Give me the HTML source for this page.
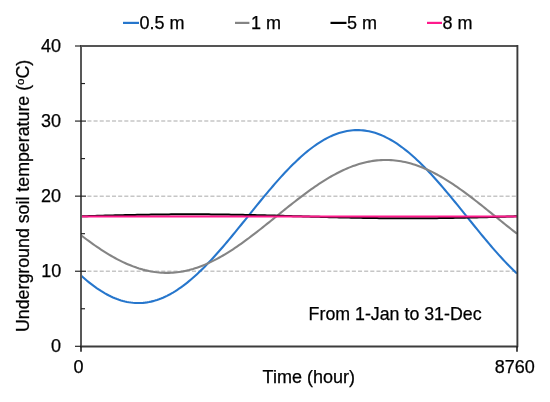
<!DOCTYPE html>
<html><head><meta charset="utf-8"><title>Underground soil temperature</title>
<style>html,body{margin:0;padding:0;background:#fff;width:550px;height:402px;overflow:hidden}svg{display:block}</style>
</head><body>
<svg width="550" height="402" viewBox="0 0 550 402">
<rect width="550" height="402" fill="#fff"/>
<line x1="87.4" y1="271.23" x2="516" y2="271.23" stroke="#c6c6c6" stroke-width="1.5" stroke-dasharray="4.05 2.1"/>
<line x1="87.4" y1="196.15" x2="516" y2="196.15" stroke="#c6c6c6" stroke-width="1.5" stroke-dasharray="4.05 2.1"/>
<line x1="87.4" y1="121.07" x2="516" y2="121.07" stroke="#c6c6c6" stroke-width="1.5" stroke-dasharray="4.05 2.1"/>
<polyline points="81.00,275.45 83.00,277.24 85.00,278.98 87.00,280.68 89.00,282.32 91.00,283.90 93.00,285.43 95.00,286.90 97.00,288.32 99.00,289.67 101.00,290.97 103.00,292.20 105.00,293.38 107.00,294.48 109.00,295.53 111.00,296.51 113.00,297.42 115.00,298.27 117.00,299.05 119.00,299.76 121.00,300.41 123.00,300.98 125.00,301.49 127.00,301.92 129.00,302.29 131.00,302.58 133.00,302.81 135.00,302.96 137.00,303.04 139.00,303.05 141.00,302.99 143.00,302.86 145.00,302.66 147.00,302.38 149.00,302.04 151.00,301.63 153.00,301.14 155.00,300.59 157.00,299.96 159.00,299.27 161.00,298.51 163.00,297.68 165.00,296.79 167.00,295.83 169.00,294.80 171.00,293.71 173.00,292.56 175.00,291.35 177.00,290.07 179.00,288.73 181.00,287.33 183.00,285.88 185.00,284.36 187.00,282.80 189.00,281.17 191.00,279.50 193.00,277.77 195.00,275.99 197.00,274.16 199.00,272.29 201.00,270.37 203.00,268.40 205.00,266.40 207.00,264.35 209.00,262.26 211.00,260.14 213.00,257.97 215.00,255.78 217.00,253.55 219.00,251.29 221.00,249.01 223.00,246.69 225.00,244.36 227.00,241.99 229.00,239.61 231.00,237.21 233.00,234.79 235.00,232.36 237.00,229.92 239.00,227.46 241.00,224.99 243.00,222.52 245.00,220.04 247.00,217.56 249.00,215.08 251.00,212.60 253.00,210.12 255.00,207.65 257.00,205.19 259.00,202.73 261.00,200.29 263.00,197.86 265.00,195.45 267.00,193.05 269.00,190.67 271.00,188.32 273.00,185.98 275.00,183.67 277.00,181.39 279.00,179.14 281.00,176.92 283.00,174.73 285.00,172.58 287.00,170.46 289.00,168.38 291.00,166.34 293.00,164.34 295.00,162.38 297.00,160.47 299.00,158.61 301.00,156.79 303.00,155.02 305.00,153.30 307.00,151.64 309.00,150.03 311.00,148.47 313.00,146.97 315.00,145.52 317.00,144.14 319.00,142.81 321.00,141.55 323.00,140.34 325.00,139.20 327.00,138.13 329.00,137.11 331.00,136.17 333.00,135.29 335.00,134.47 337.00,133.73 339.00,133.05 341.00,132.44 343.00,131.90 345.00,131.43 347.00,131.03 349.00,130.70 351.00,130.44 353.00,130.25 355.00,130.13 357.00,130.08 359.00,130.11 361.00,130.21 363.00,130.37 365.00,130.61 367.00,130.92 369.00,131.30 371.00,131.75 373.00,132.27 375.00,132.86 377.00,133.51 379.00,134.24 381.00,135.03 383.00,135.90 385.00,136.82 387.00,137.82 389.00,138.87 391.00,139.99 393.00,141.18 395.00,142.43 397.00,143.73 399.00,145.10 401.00,146.53 403.00,148.01 405.00,149.55 407.00,151.15 409.00,152.80 411.00,154.50 413.00,156.25 415.00,158.06 417.00,159.91 419.00,161.81 421.00,163.75 423.00,165.73 425.00,167.76 427.00,169.83 429.00,171.94 431.00,174.08 433.00,176.26 435.00,178.47 437.00,180.71 439.00,182.99 441.00,185.29 443.00,187.61 445.00,189.96 447.00,192.33 449.00,194.73 451.00,197.14 453.00,199.56 455.00,202.00 457.00,204.45 459.00,206.91 461.00,209.38 463.00,211.86 465.00,214.34 467.00,216.82 469.00,219.30 471.00,221.78 473.00,224.25 475.00,226.72 477.00,229.18 479.00,231.63 481.00,234.07 483.00,236.49 485.00,238.89 487.00,241.28 489.00,243.65 491.00,245.99 493.00,248.32 495.00,250.61 497.00,252.88 499.00,255.11 501.00,257.32 503.00,259.49 505.00,261.63 507.00,263.73 509.00,265.79 511.00,267.81 513.00,269.78 515.00,271.72 517.00,273.61" fill="none" stroke="#2676cc" stroke-width="2.1" stroke-linejoin="round"/>
<polyline points="81.00,235.25 83.00,236.77 85.00,238.27 87.00,239.75 89.00,241.22 91.00,242.66 93.00,244.09 95.00,245.49 97.00,246.86 99.00,248.21 101.00,249.54 103.00,250.84 105.00,252.11 107.00,253.35 109.00,254.56 111.00,255.74 113.00,256.88 115.00,257.99 117.00,259.07 119.00,260.12 121.00,261.12 123.00,262.09 125.00,263.03 127.00,263.92 129.00,264.78 131.00,265.59 133.00,266.37 135.00,267.10 137.00,267.80 139.00,268.45 141.00,269.05 143.00,269.62 145.00,270.14 147.00,270.61 149.00,271.05 151.00,271.43 153.00,271.77 155.00,272.07 157.00,272.32 159.00,272.52 161.00,272.68 163.00,272.79 165.00,272.86 167.00,272.88 169.00,272.85 171.00,272.77 173.00,272.65 175.00,272.49 177.00,272.27 179.00,272.01 181.00,271.71 183.00,271.36 185.00,270.96 187.00,270.52 189.00,270.04 191.00,269.51 193.00,268.94 195.00,268.32 197.00,267.66 199.00,266.96 201.00,266.22 203.00,265.43 205.00,264.61 207.00,263.75 209.00,262.84 211.00,261.90 213.00,260.93 215.00,259.91 217.00,258.86 219.00,257.77 221.00,256.65 223.00,255.50 225.00,254.32 227.00,253.10 229.00,251.85 231.00,250.58 233.00,249.28 235.00,247.95 237.00,246.59 239.00,245.21 241.00,243.80 243.00,242.38 245.00,240.93 247.00,239.46 249.00,237.97 251.00,236.46 253.00,234.94 255.00,233.40 257.00,231.85 259.00,230.29 261.00,228.71 263.00,227.13 265.00,225.53 267.00,223.93 269.00,222.32 271.00,220.71 273.00,219.09 275.00,217.47 277.00,215.85 279.00,214.23 281.00,212.62 283.00,211.00 285.00,209.39 287.00,207.79 289.00,206.19 291.00,204.60 293.00,203.02 295.00,201.46 297.00,199.90 299.00,198.36 301.00,196.83 303.00,195.32 305.00,193.83 307.00,192.35 309.00,190.90 311.00,189.46 313.00,188.05 315.00,186.66 317.00,185.30 319.00,183.96 321.00,182.65 323.00,181.37 325.00,180.11 327.00,178.88 329.00,177.69 331.00,176.53 333.00,175.40 335.00,174.30 337.00,173.24 339.00,172.22 341.00,171.23 343.00,170.27 345.00,169.36 347.00,168.49 349.00,167.65 351.00,166.85 353.00,166.10 355.00,165.39 357.00,164.71 359.00,164.08 361.00,163.50 363.00,162.96 365.00,162.46 367.00,162.00 369.00,161.60 371.00,161.23 373.00,160.91 375.00,160.64 377.00,160.41 379.00,160.23 381.00,160.10 383.00,160.01 385.00,159.97 387.00,159.97 389.00,160.02 391.00,160.12 393.00,160.26 395.00,160.45 397.00,160.69 399.00,160.97 401.00,161.30 403.00,161.67 405.00,162.09 407.00,162.55 409.00,163.06 411.00,163.61 413.00,164.21 415.00,164.84 417.00,165.52 419.00,166.25 421.00,167.01 423.00,167.81 425.00,168.66 427.00,169.54 429.00,170.46 431.00,171.42 433.00,172.42 435.00,173.45 437.00,174.52 439.00,175.62 441.00,176.76 443.00,177.93 445.00,179.13 447.00,180.36 449.00,181.62 451.00,182.91 453.00,184.23 455.00,185.57 457.00,186.94 459.00,188.33 461.00,189.75 463.00,191.19 465.00,192.65 467.00,194.13 469.00,195.62 471.00,197.14 473.00,198.67 475.00,200.21 477.00,201.77 479.00,203.34 481.00,204.92 483.00,206.51 485.00,208.11 487.00,209.71 489.00,211.32 491.00,212.94 493.00,214.56 495.00,216.18 497.00,217.80 499.00,219.42 501.00,221.03 503.00,222.64 505.00,224.25 507.00,225.85 509.00,227.44 511.00,229.03 513.00,230.60 515.00,232.16 517.00,233.71" fill="none" stroke="#848484" stroke-width="2.1" stroke-linejoin="round"/>
<polyline points="81.00,216.30 83.00,216.24 85.00,216.18 87.00,216.13 89.00,216.07 91.00,216.01 93.00,215.96 95.00,215.90 97.00,215.84 99.00,215.79 101.00,215.73 103.00,215.68 105.00,215.62 107.00,215.57 109.00,215.51 111.00,215.46 113.00,215.41 115.00,215.36 117.00,215.31 119.00,215.26 121.00,215.21 123.00,215.16 125.00,215.12 127.00,215.07 129.00,215.02 131.00,214.98 133.00,214.94 135.00,214.90 137.00,214.86 139.00,214.82 141.00,214.78 143.00,214.74 145.00,214.71 147.00,214.67 149.00,214.64 151.00,214.61 153.00,214.58 155.00,214.55 157.00,214.52 159.00,214.50 161.00,214.47 163.00,214.45 165.00,214.43 167.00,214.41 169.00,214.39 171.00,214.37 173.00,214.36 175.00,214.35 177.00,214.33 179.00,214.33 181.00,214.32 183.00,214.31 185.00,214.31 187.00,214.30 189.00,214.30 191.00,214.30 193.00,214.30 195.00,214.31 197.00,214.31 199.00,214.32 201.00,214.33 203.00,214.33 205.00,214.35 207.00,214.36 209.00,214.37 211.00,214.39 213.00,214.41 215.00,214.43 217.00,214.45 219.00,214.47 221.00,214.50 223.00,214.52 225.00,214.55 227.00,214.58 229.00,214.61 231.00,214.64 233.00,214.67 235.00,214.71 237.00,214.74 239.00,214.78 241.00,214.82 243.00,214.86 245.00,214.90 247.00,214.94 249.00,214.98 251.00,215.02 253.00,215.07 255.00,215.12 257.00,215.16 259.00,215.21 261.00,215.26 263.00,215.31 265.00,215.36 267.00,215.41 269.00,215.46 271.00,215.51 273.00,215.57 275.00,215.62 277.00,215.68 279.00,215.73 281.00,215.79 283.00,215.84 285.00,215.90 287.00,215.96 289.00,216.01 291.00,216.07 293.00,216.13 295.00,216.18 297.00,216.24 299.00,216.30 301.00,216.36 303.00,216.42 305.00,216.47 307.00,216.53 309.00,216.59 311.00,216.64 313.00,216.70 315.00,216.76 317.00,216.81 319.00,216.87 321.00,216.92 323.00,216.98 325.00,217.03 327.00,217.09 329.00,217.14 331.00,217.19 333.00,217.24 335.00,217.29 337.00,217.34 339.00,217.39 341.00,217.44 343.00,217.48 345.00,217.53 347.00,217.58 349.00,217.62 351.00,217.66 353.00,217.70 355.00,217.74 357.00,217.78 359.00,217.82 361.00,217.86 363.00,217.89 365.00,217.93 367.00,217.96 369.00,217.99 371.00,218.02 373.00,218.05 375.00,218.08 377.00,218.10 379.00,218.13 381.00,218.15 383.00,218.17 385.00,218.19 387.00,218.21 389.00,218.23 391.00,218.24 393.00,218.25 395.00,218.27 397.00,218.27 399.00,218.28 401.00,218.29 403.00,218.29 405.00,218.30 407.00,218.30 409.00,218.30 411.00,218.30 413.00,218.29 415.00,218.29 417.00,218.28 419.00,218.27 421.00,218.27 423.00,218.25 425.00,218.24 427.00,218.23 429.00,218.21 431.00,218.19 433.00,218.17 435.00,218.15 437.00,218.13 439.00,218.10 441.00,218.08 443.00,218.05 445.00,218.02 447.00,217.99 449.00,217.96 451.00,217.93 453.00,217.89 455.00,217.86 457.00,217.82 459.00,217.78 461.00,217.74 463.00,217.70 465.00,217.66 467.00,217.62 469.00,217.58 471.00,217.53 473.00,217.48 475.00,217.44 477.00,217.39 479.00,217.34 481.00,217.29 483.00,217.24 485.00,217.19 487.00,217.14 489.00,217.09 491.00,217.03 493.00,216.98 495.00,216.92 497.00,216.87 499.00,216.81 501.00,216.76 503.00,216.70 505.00,216.64 507.00,216.59 509.00,216.53 511.00,216.47 513.00,216.42 515.00,216.36 517.00,216.30" fill="none" stroke="#000000" stroke-width="2.0" stroke-linejoin="round"/>
<polyline points="81.00,216.40 83.00,216.40 85.00,216.40 87.00,216.40 89.00,216.40 91.00,216.40 93.00,216.40 95.00,216.40 97.00,216.40 99.00,216.40 101.00,216.40 103.00,216.40 105.00,216.40 107.00,216.40 109.00,216.40 111.00,216.40 113.00,216.40 115.00,216.40 117.00,216.40 119.00,216.40 121.00,216.40 123.00,216.40 125.00,216.40 127.00,216.40 129.00,216.40 131.00,216.40 133.00,216.40 135.00,216.40 137.00,216.40 139.00,216.40 141.00,216.40 143.00,216.40 145.00,216.40 147.00,216.40 149.00,216.40 151.00,216.40 153.00,216.40 155.00,216.40 157.00,216.40 159.00,216.40 161.00,216.40 163.00,216.40 165.00,216.40 167.00,216.40 169.00,216.40 171.00,216.40 173.00,216.40 175.00,216.40 177.00,216.40 179.00,216.40 181.00,216.40 183.00,216.40 185.00,216.40 187.00,216.40 189.00,216.40 191.00,216.40 193.00,216.40 195.00,216.40 197.00,216.40 199.00,216.40 201.00,216.40 203.00,216.40 205.00,216.40 207.00,216.40 209.00,216.40 211.00,216.40 213.00,216.40 215.00,216.40 217.00,216.40 219.00,216.40 221.00,216.40 223.00,216.40 225.00,216.40 227.00,216.40 229.00,216.40 231.00,216.40 233.00,216.40 235.00,216.40 237.00,216.40 239.00,216.40 241.00,216.40 243.00,216.40 245.00,216.40 247.00,216.40 249.00,216.40 251.00,216.40 253.00,216.40 255.00,216.40 257.00,216.40 259.00,216.40 261.00,216.40 263.00,216.40 265.00,216.40 267.00,216.40 269.00,216.40 271.00,216.40 273.00,216.40 275.00,216.40 277.00,216.40 279.00,216.40 281.00,216.40 283.00,216.40 285.00,216.40 287.00,216.40 289.00,216.40 291.00,216.40 293.00,216.40 295.00,216.40 297.00,216.40 299.00,216.40 301.00,216.40 303.00,216.40 305.00,216.40 307.00,216.40 309.00,216.40 311.00,216.40 313.00,216.40 315.00,216.40 317.00,216.40 319.00,216.40 321.00,216.40 323.00,216.40 325.00,216.40 327.00,216.40 329.00,216.40 331.00,216.40 333.00,216.40 335.00,216.40 337.00,216.40 339.00,216.40 341.00,216.40 343.00,216.40 345.00,216.40 347.00,216.40 349.00,216.40 351.00,216.40 353.00,216.40 355.00,216.40 357.00,216.40 359.00,216.40 361.00,216.40 363.00,216.40 365.00,216.40 367.00,216.40 369.00,216.40 371.00,216.40 373.00,216.40 375.00,216.40 377.00,216.40 379.00,216.40 381.00,216.40 383.00,216.40 385.00,216.40 387.00,216.40 389.00,216.40 391.00,216.40 393.00,216.40 395.00,216.40 397.00,216.40 399.00,216.40 401.00,216.40 403.00,216.40 405.00,216.40 407.00,216.40 409.00,216.40 411.00,216.40 413.00,216.40 415.00,216.40 417.00,216.40 419.00,216.40 421.00,216.40 423.00,216.40 425.00,216.40 427.00,216.40 429.00,216.40 431.00,216.40 433.00,216.40 435.00,216.40 437.00,216.40 439.00,216.40 441.00,216.40 443.00,216.40 445.00,216.40 447.00,216.40 449.00,216.40 451.00,216.40 453.00,216.40 455.00,216.40 457.00,216.40 459.00,216.40 461.00,216.40 463.00,216.40 465.00,216.40 467.00,216.40 469.00,216.40 471.00,216.40 473.00,216.40 475.00,216.40 477.00,216.40 479.00,216.40 481.00,216.40 483.00,216.40 485.00,216.40 487.00,216.40 489.00,216.40 491.00,216.40 493.00,216.40 495.00,216.40 497.00,216.40 499.00,216.40 501.00,216.40 503.00,216.40 505.00,216.40 507.00,216.40 509.00,216.40 511.00,216.40 513.00,216.40 515.00,216.40 517.00,216.40" fill="none" stroke="#ff1a8c" stroke-width="2.0" stroke-linejoin="round"/>
<line x1="81.0" y1="45.0" x2="81.0" y2="347.2" stroke="#585858" stroke-width="2"/>
<line x1="80.0" y1="46.0" x2="517.5" y2="46.0" stroke="#555555" stroke-width="2"/>
<line x1="517.4" y1="45.0" x2="517.4" y2="347.3" stroke="#3a3a3a" stroke-width="1.9"/>
<line x1="80.0" y1="346.5" x2="518.0" y2="346.5" stroke="#3c3c3c" stroke-width="1.9"/>
<line x1="75" y1="346.30" x2="81.0" y2="346.30" stroke="#1e1e1e" stroke-width="1.15"/>
<line x1="75" y1="271.23" x2="86" y2="271.23" stroke="#1e1e1e" stroke-width="1.15"/>
<line x1="75" y1="196.15" x2="86" y2="196.15" stroke="#1e1e1e" stroke-width="1.15"/>
<line x1="75" y1="121.07" x2="86" y2="121.07" stroke="#1e1e1e" stroke-width="1.15"/>
<line x1="75" y1="46.00" x2="81.0" y2="46.00" stroke="#1e1e1e" stroke-width="1.15"/>
<line x1="81.0" y1="308.76" x2="85" y2="308.76" stroke="#1e1e1e" stroke-width="1.15"/>
<line x1="81.0" y1="233.69" x2="85" y2="233.69" stroke="#1e1e1e" stroke-width="1.15"/>
<line x1="81.0" y1="158.61" x2="85" y2="158.61" stroke="#1e1e1e" stroke-width="1.15"/>
<line x1="81.0" y1="83.54" x2="85" y2="83.54" stroke="#1e1e1e" stroke-width="1.15"/>
<line x1="81.0" y1="346.3" x2="81.0" y2="351.8" stroke="#1e1e1e" stroke-width="1.6"/>
<line x1="517.0" y1="346.3" x2="517.0" y2="351.8" stroke="#1e1e1e" stroke-width="1.6"/>
<text x="61" y="352.4" text-anchor="end" font-family="Liberation Sans, Arial, sans-serif" fill="#000" stroke="#000" stroke-width="0.25" font-size="18">0</text>
<text x="61.4" y="277.3" text-anchor="end" font-family="Liberation Sans, Arial, sans-serif" fill="#000" stroke="#000" stroke-width="0.25" font-size="18">10</text>
<text x="61" y="202.2" text-anchor="end" font-family="Liberation Sans, Arial, sans-serif" fill="#000" stroke="#000" stroke-width="0.25" font-size="18">20</text>
<text x="61" y="127.2" text-anchor="end" font-family="Liberation Sans, Arial, sans-serif" fill="#000" stroke="#000" stroke-width="0.25" font-size="18">30</text>
<text x="61" y="52.1" text-anchor="end" font-family="Liberation Sans, Arial, sans-serif" fill="#000" stroke="#000" stroke-width="0.25" font-size="18">40</text>
<text x="78.5" y="373" text-anchor="middle" font-family="Liberation Sans, Arial, sans-serif" fill="#000" stroke="#000" stroke-width="0.25" font-size="18">0</text>
<text x="514.8" y="373" text-anchor="middle" font-family="Liberation Sans, Arial, sans-serif" fill="#000" stroke="#000" stroke-width="0.25" font-size="18">8760</text>
<text x="308.8" y="383.3" text-anchor="middle" font-family="Liberation Sans, Arial, sans-serif" fill="#000" stroke="#000" stroke-width="0.25" font-size="18">Time (hour)</text>
<text transform="translate(29.2,195.9) rotate(-90)" text-anchor="middle" font-family="Liberation Sans, Arial, sans-serif" fill="#000" stroke="#000" stroke-width="0.25" font-size="17.8">Underground soil temperature (<tspan font-size="11.5" dy="-5.5">o</tspan><tspan dy="5.5">C)</tspan></text>
<text x="308.6" y="320.1" font-family="Liberation Sans, Arial, sans-serif" fill="#000" stroke="#000" stroke-width="0.25" font-size="17.8">From 1-Jan to 31-Dec</text>
<line x1="123" y1="22.9" x2="139" y2="22.9" stroke="#2676cc" stroke-width="2.2"/>
<text x="139.5" y="28.5" font-family="Liberation Sans, Arial, sans-serif" fill="#000" stroke="#000" stroke-width="0.25" font-size="18">0.5 m</text>
<line x1="235" y1="22.9" x2="249.4" y2="22.9" stroke="#848484" stroke-width="2.2"/>
<text x="250.9" y="28.5" font-family="Liberation Sans, Arial, sans-serif" fill="#000" stroke="#000" stroke-width="0.25" font-size="18">1 m</text>
<line x1="330.5" y1="22.9" x2="346.5" y2="22.9" stroke="#000000" stroke-width="2.2"/>
<text x="347.0" y="28.5" font-family="Liberation Sans, Arial, sans-serif" fill="#000" stroke="#000" stroke-width="0.25" font-size="18">5 m</text>
<line x1="427" y1="22.9" x2="442" y2="22.9" stroke="#ff1a8c" stroke-width="2.2"/>
<text x="442.5" y="28.5" font-family="Liberation Sans, Arial, sans-serif" fill="#000" stroke="#000" stroke-width="0.25" font-size="18">8 m</text>
</svg>
</body></html>
